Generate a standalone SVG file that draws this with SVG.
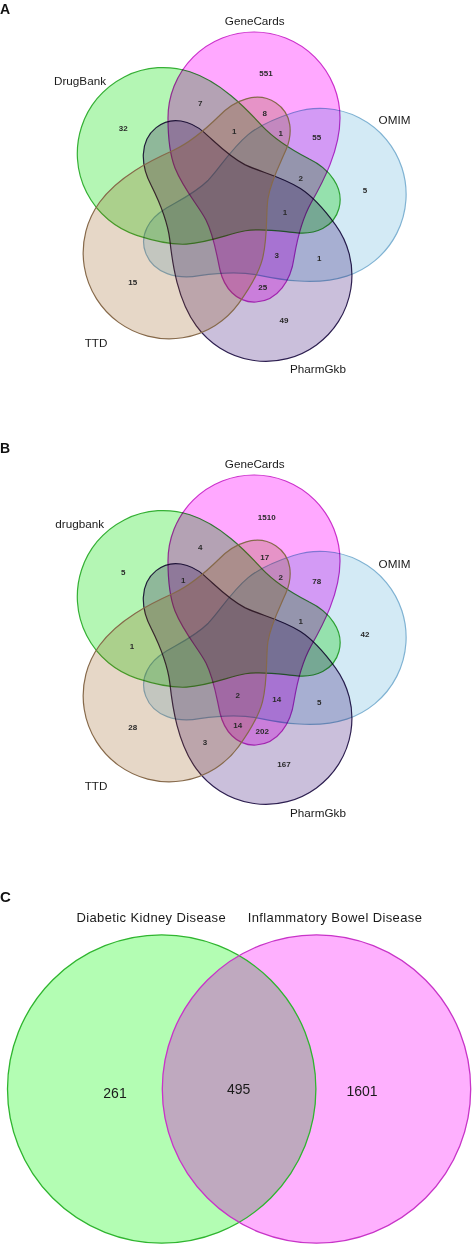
<svg xmlns="http://www.w3.org/2000/svg" width="474" height="1246" viewBox="0 0 474 1246">
<style>
.petal { mix-blend-mode: multiply; stroke-width: 1.2; }
.petaln { stroke-width: 1.2; }
.db { fill: #b4f6b4; stroke: #35b035; }
.gc { fill: #ffa8ff; stroke: #cc30cc; }
.om { fill: #d3eaf5; stroke: #80b3d3; }
.pg { fill: #cabfdb; stroke: #2d1f50; }
.ttd { fill: rgb(141,73,0); fill-opacity: 0.22; stroke: #86694a; }
.lbl { font-family: "Liberation Sans", Arial, sans-serif; font-size: 11.7px; fill: #1a1a1a; text-anchor: middle; }
.num { font-family: "Liberation Sans", Arial, sans-serif; font-size: 8px; font-weight: bold; fill: #2a2a2a; text-anchor: middle; }
.panel { font-family: "Liberation Sans", Arial, sans-serif; font-size: 14px; font-weight: bold; fill: #111; }
.clbl { font-family: "Liberation Sans", Arial, sans-serif; font-size: 13px; letter-spacing: 0.38px; fill: #1a1a1a; text-anchor: middle; }
.cnum { font-family: "Liberation Sans", Arial, sans-serif; font-size: 14px; fill: #1a1a1a; text-anchor: middle; }
</style>
<defs>
<path id="petal" d="M 168,118 A 86 86 0 0 1 340,118 C 340,150 323,182 311,203 C 301,221 297,240 294,258 C 291,280 278,301 256,302 C 236,303 224,287 220,270 C 216,252 214,236 206,220 C 198,205 184,190 175,168 C 170,155 168,135 168,118 Z"/>
</defs>
<rect x="0" y="0" width="474" height="1246" fill="#ffffff"/>

<!-- Panel A -->
<g id="panelA">
<text class="panel" x="0" y="14">A</text>
<g id="A-DrugBank">
<use href="#petal" class="petal db" transform="translate(-0.5 -1.5) rotate(288 234.4 198.6)"/>
<text class="lbl" x="80" y="85">DrugBank</text>
</g>
<g id="A-GeneCards">
<use href="#petal" class="petal gc"/>
<text class="lbl" x="254.7" y="25">GeneCards</text>
</g>
<g id="A-OMIM">
<use href="#petal" class="petal om" transform="translate(3 2) rotate(72 234.4 198.6)"/>
<text class="lbl" x="394.5" y="124.3">OMIM</text>
</g>
<g id="A-PharmGkb">
<use href="#petal" class="petal pg" transform="rotate(144 234.4 198.6)"/>
<text class="lbl" x="318" y="373.3">PharmGkb</text>
</g>
<g id="A-TTD">
<use href="#petal" class="petaln ttd" transform="translate(-2 0.5) rotate(216 234.4 198.6)"/>
<text class="lbl" x="96" y="346.7">TTD</text>
</g>
<g id="A-counts">
<text class="num" x="266" y="75.6">551</text>
<text class="num" x="200.3" y="105.6">7</text>
<text class="num" x="123.3" y="131.2">32</text>
<text class="num" x="264.7" y="116.2">8</text>
<text class="num" x="234.3" y="133.9">1</text>
<text class="num" x="280.7" y="136.2">1</text>
<text class="num" x="316.7" y="140.2">55</text>
<text class="num" x="300.7" y="180.6">2</text>
<text class="num" x="365" y="192.9">5</text>
<text class="num" x="285" y="215.2">1</text>
<text class="num" x="276.7" y="257.9">3</text>
<text class="num" x="319.3" y="261.2">1</text>
<text class="num" x="132.7" y="285.2">15</text>
<text class="num" x="262.7" y="290.2">25</text>
<text class="num" x="284" y="322.9">49</text>
</g>
</g>

<!-- Panel B -->
<g id="panelB">
<text class="panel" x="0" y="453.3">B</text>
<g id="B-drugbank">
<use href="#petal" class="petal db" transform="translate(-0.5 441.5) rotate(288 234.4 198.6)"/>
<text class="lbl" x="79.7" y="528.3">drugbank</text>
</g>
<g id="B-GeneCards">
<use href="#petal" class="petal gc" transform="translate(0 443)"/>
<text class="lbl" x="254.7" y="468.3">GeneCards</text>
</g>
<g id="B-OMIM">
<use href="#petal" class="petal om" transform="translate(3 445) rotate(72 234.4 198.6)"/>
<text class="lbl" x="394.5" y="567.7">OMIM</text>
</g>
<g id="B-PharmGkb">
<use href="#petal" class="petal pg" transform="translate(0 443) rotate(144 234.4 198.6)"/>
<text class="lbl" x="318" y="816.7">PharmGkb</text>
</g>
<g id="B-TTD">
<use href="#petal" class="petaln ttd" transform="translate(-2 443.5) rotate(216 234.4 198.6)"/>
<text class="lbl" x="96" y="790">TTD</text>
</g>
<g id="B-counts">
<text class="num" x="266.7" y="519.6">1510</text>
<text class="num" x="200.3" y="549.6">4</text>
<text class="num" x="123.3" y="575.2">5</text>
<text class="num" x="264.7" y="559.6">17</text>
<text class="num" x="183.3" y="582.9">1</text>
<text class="num" x="280.7" y="579.6">2</text>
<text class="num" x="316.7" y="583.9">78</text>
<text class="num" x="300.7" y="623.9">1</text>
<text class="num" x="365" y="636.9">42</text>
<text class="num" x="132" y="648.9">1</text>
<text class="num" x="237.7" y="697.9">2</text>
<text class="num" x="276.7" y="701.9">14</text>
<text class="num" x="319.3" y="704.6">5</text>
<text class="num" x="132.7" y="729.6">28</text>
<text class="num" x="237.7" y="727.9">14</text>
<text class="num" x="262.3" y="733.9">202</text>
<text class="num" x="205" y="744.6">3</text>
<text class="num" x="284" y="767.2">167</text>
</g>
</g>

<!-- Panel C -->
<g id="panelC">
<text class="panel" x="0" y="901.7" style="font-size:15px">C</text>
<g id="C-DKD">
<circle cx="161.7" cy="1089" r="154.2" fill="#b3fdb3"/>
<text class="clbl" x="151.3" y="921.5">Diabetic Kidney Disease</text>
<text class="cnum" x="115" y="1097.7">261</text>
</g>
<g id="C-IBD">
<circle cx="316.5" cy="1089" r="154.2" fill="#feb0fe"/>
<text class="clbl" x="335" y="921.5">Inflammatory Bowel Disease</text>
<text class="cnum" x="362" y="1095.7">1601</text>
</g>
<g id="C-overlap">
<path d="M 239.1,955.6 A 154.2 154.2 0 0 1 239.1,1222.4 A 154.2 154.2 0 0 1 239.1,955.6 Z" fill="#bfa9bf"/>
<text class="cnum" x="238.7" y="1094">495</text>
</g>
<g id="C-outlines" fill="none" stroke-width="1.3">
<circle cx="161.7" cy="1089" r="154.2" stroke="#2fb52f"/>
<circle cx="316.5" cy="1089" r="154.2" stroke="#c834c8"/>
</g>
</g>
</svg>
